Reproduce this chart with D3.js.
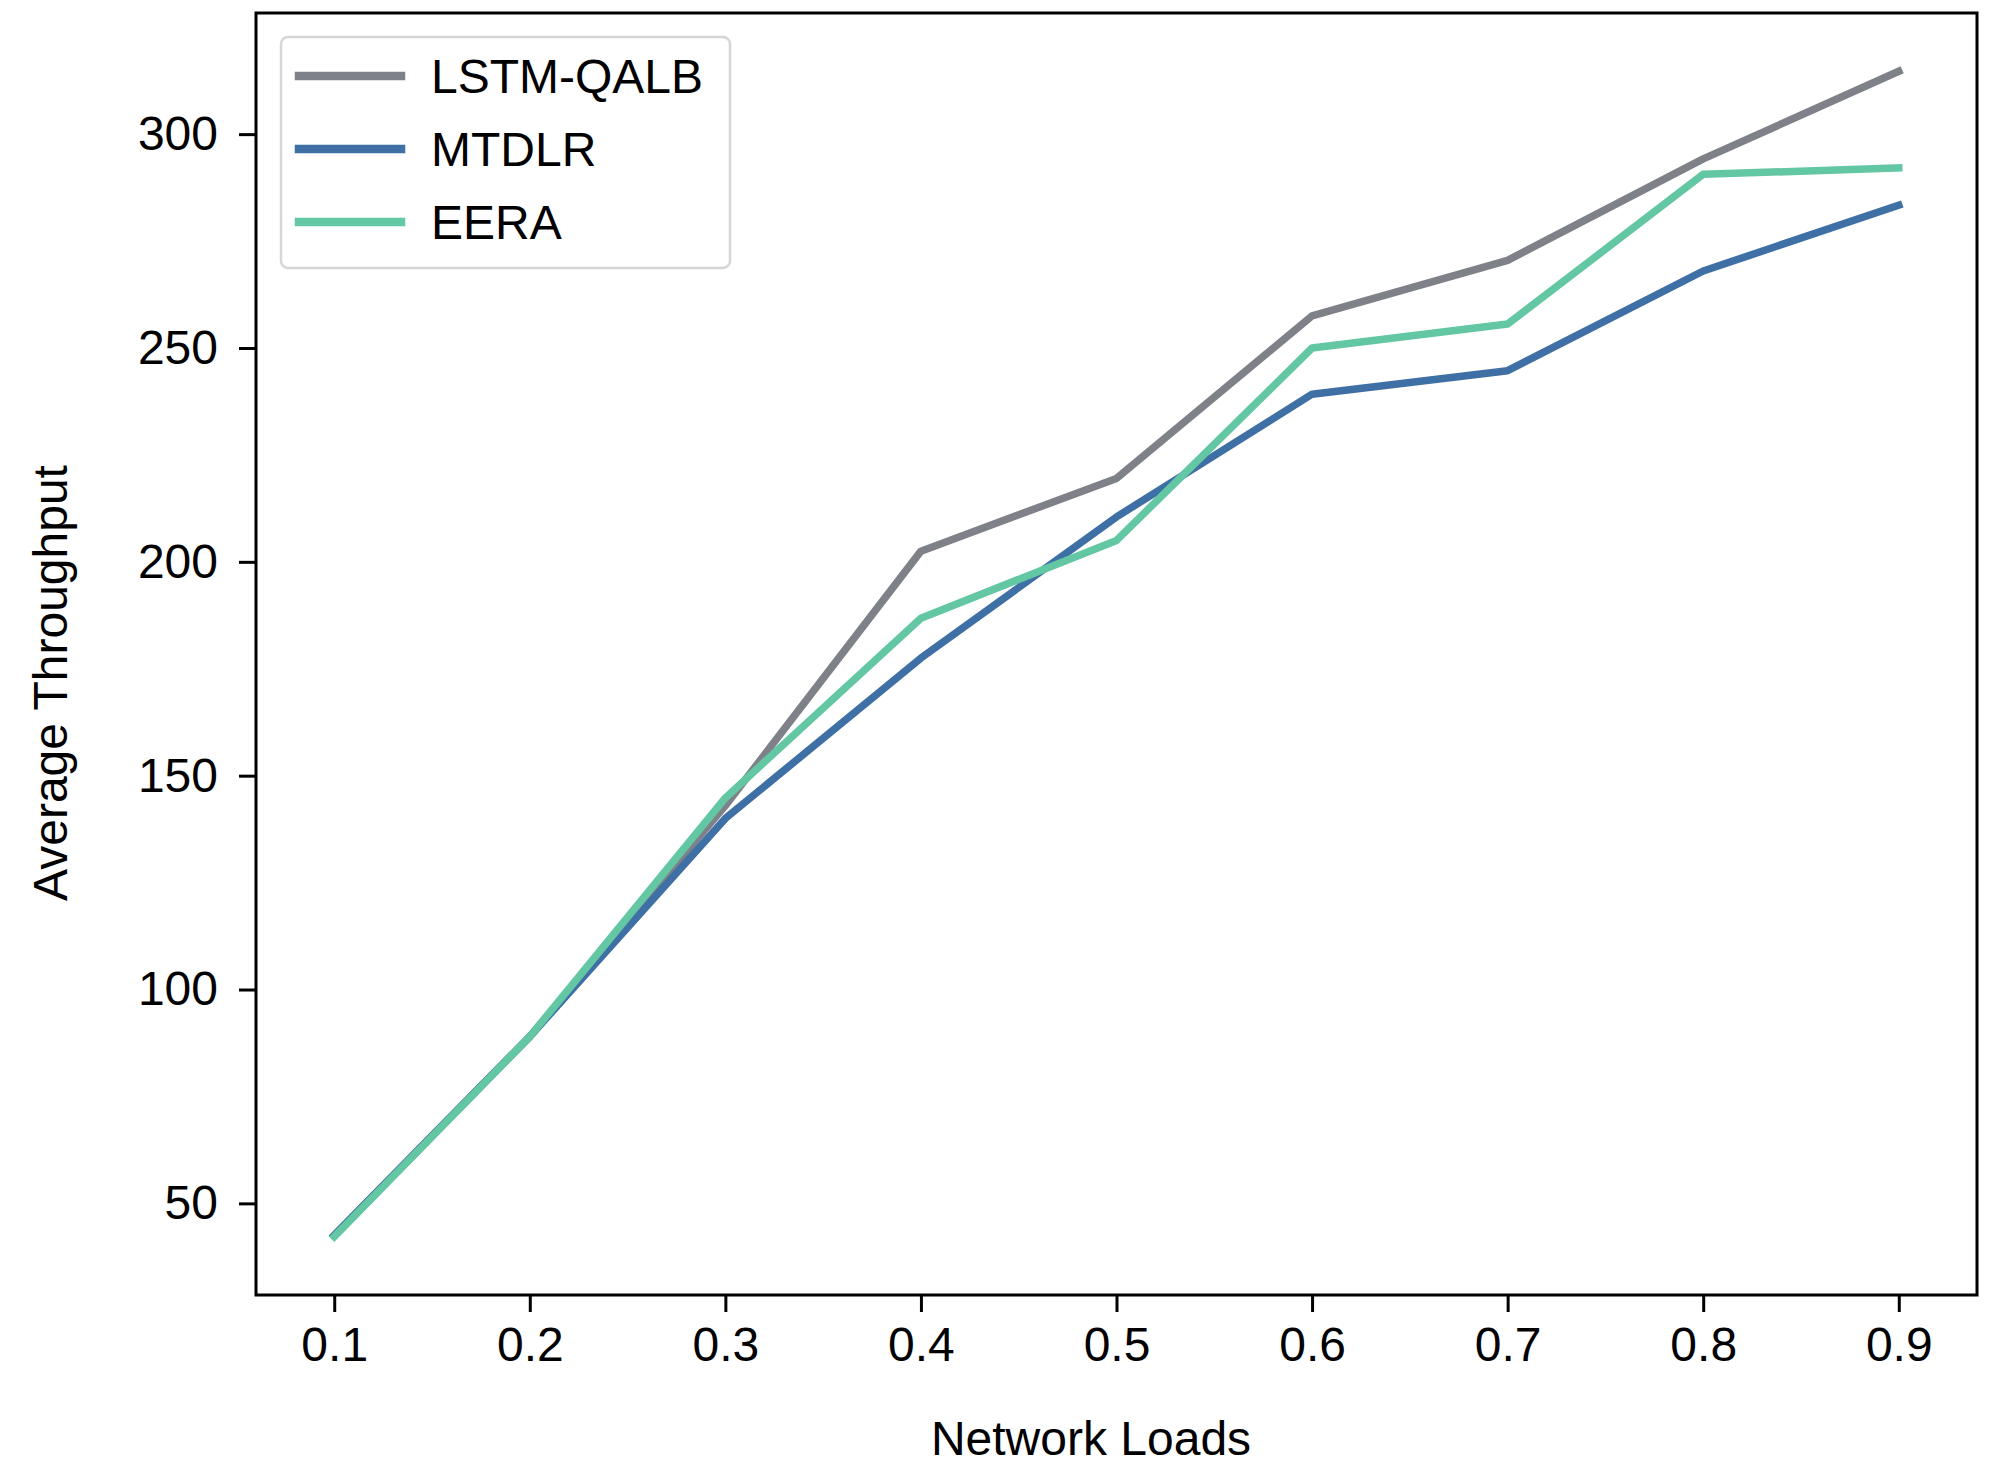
<!DOCTYPE html>
<html>
<head>
<meta charset="utf-8">
<script src="https://cdn.jsdelivr.net/npm/d3@7"></script>
<style>
  body { margin: 0; background: #fff; }
  text { font-family: "Liberation Sans", Arial, sans-serif; fill: #000; }
</style>
</head>
<body>
<div id="chart"></div>
<script>
// values
const loads = [0.1, 0.2, 0.3, 0.4, 0.5, 0.6, 0.7, 0.8, 0.9];
const seriesNames = ['LSTM-QALB', 'MTDLR', 'EERA'];
const lstmQalb = [42.5, 89, 143, 202.5, 219.5, 257.5, 270.5, 294.2, 314.7];
const mtdlr = [42.5, 89, 140, 177.5, 210.5, 239.2, 244.7, 268, 283.4];
const eera = [42.2, 89, 144.8, 186.8, 205, 250, 255.6, 290.6, 292.1];
const yTicks = [50, 100, 150, 200, 250, 300];
const xLabel = 'Network Loads';
const yLabel = 'Average Throughput';

class LineChart {

  constructor(_config, _data) {
    this.config = {
      parentElement: _config.parentElement,
      containerWidth: _config.containerWidth || 2000,
      containerHeight: _config.containerHeight || 1478,
      margin: _config.margin || {top: 13, right: 23, bottom: 183, left: 256},
      colors: ['#7f8189', '#3e6fa5', '#62c7a2'],
      fontSize: 48,
      tickSize: 17,
      lineWidth: 7.5
    }
    this.data = _data;
    this.initVis();
  }

  initVis() {
    let vis = this;
    vis.width = vis.config.containerWidth - vis.config.margin.left - vis.config.margin.right;
    vis.height = vis.config.containerHeight - vis.config.margin.top - vis.config.margin.bottom;

    vis.svg = d3.select(vis.config.parentElement).append('svg')
        .attr('width', vis.config.containerWidth)
        .attr('height', vis.config.containerHeight);

    vis.chart = vis.svg.append('g')
        .attr('transform', `translate(${vis.config.margin.left},${vis.config.margin.top})`);

    // matplotlib style 5% margins around the data
    const xExt = d3.extent(loads);
    const xPad = (xExt[1] - xExt[0]) * 0.05;
    const allVals = vis.data.flatMap(d => d.values);
    const yExt = d3.extent(allVals);
    const yPad = (yExt[1] - yExt[0]) * 0.05;

    vis.xScale = d3.scaleLinear()
        .domain([xExt[0] - xPad, xExt[1] + xPad])
        .range([0, vis.width]);

    vis.yScale = d3.scaleLinear()
        .domain([yExt[0] - yPad, yExt[1] + yPad])
        .range([vis.height, 0]);

    vis.xAxis = d3.axisBottom(vis.xScale)
        .tickValues(loads)
        .tickFormat(d3.format('.1f'))
        .tickSizeInner(vis.config.tickSize)
        .tickSizeOuter(0)
        .tickPadding(15);

    vis.yAxis = d3.axisLeft(vis.yScale)
        .tickValues(yTicks)
        .tickSizeInner(vis.config.tickSize)
        .tickSizeOuter(0)
        .tickPadding(21);

    vis.updateVis();
  }

  updateVis() {
    let vis = this;

    const line = d3.line()
        .x((d, i) => vis.xScale(loads[i]))
        .y(d => vis.yScale(d));

    vis.chart.selectAll('.series')
        .data(vis.data)
      .join('path')
        .attr('class', 'series')
        .attr('fill', 'none')
        .attr('stroke', (d, i) => vis.config.colors[i])
        .attr('stroke-width', vis.config.lineWidth)
        .attr('stroke-linejoin', 'round')
        .attr('stroke-linecap', 'square')
        .attr('d', d => line(d.values));

    // frame
    vis.chart.append('rect')
        .attr('width', vis.width)
        .attr('height', vis.height)
        .attr('fill', 'none')
        .attr('stroke', '#000')
        .attr('stroke-width', 3);

    const xg = vis.chart.append('g')
        .attr('transform', `translate(0,${vis.height})`)
        .call(vis.xAxis);
    const yg = vis.chart.append('g')
        .call(vis.yAxis);

    [xg, yg].forEach(g => {
      g.select('.domain').remove();
      g.selectAll('.tick line').attr('stroke', '#000').attr('stroke-width', 3);
      g.selectAll('.tick text')
          .attr('font-size', vis.config.fontSize)
          .attr('font-family', '"Liberation Sans", Arial, sans-serif')
          .attr('fill', '#000');
    });

    // axis titles
    vis.svg.append('text')
        .attr('x', 1091)
        .attr('y', 1455)
        .attr('text-anchor', 'middle')
        .attr('font-size', vis.config.fontSize)
        .text(xLabel);

    vis.svg.append('text')
        .attr('transform', 'translate(67,683) rotate(-90)')
        .attr('text-anchor', 'middle')
        .attr('font-size', vis.config.fontSize)
        .text(yLabel);

    // legend
    vis.legend = vis.svg.append('g')
        .attr('transform', 'translate(281,37)');

    vis.legend.append('rect')
        .attr('width', 449)
        .attr('height', 231)
        .attr('rx', 7)
        .attr('fill', '#fff')
        .attr('fill-opacity', 0.8)
        .attr('stroke', '#d6d6d6')
        .attr('stroke-width', 2.5);

    const rows = vis.legend.selectAll('.legend-row')
        .data(vis.data)
      .join('g')
        .attr('class', 'legend-row')
        .attr('transform', (d, i) => `translate(0,${39 + i * 73})`);

    rows.append('line')
        .attr('x1', 18)
        .attr('x2', 120)
        .attr('stroke', (d, i) => vis.config.colors[i])
        .attr('stroke-width', vis.config.lineWidth + 1)
        .attr('stroke-linecap', 'square');

    rows.append('text')
        .attr('x', 150)
        .attr('dy', '0.35em')
        .attr('font-size', vis.config.fontSize)
        .text(d => d.name);
  }
}

const chartData = [
  {name: seriesNames[0], values: lstmQalb},
  {name: seriesNames[1], values: mtdlr},
  {name: seriesNames[2], values: eera}
];

new LineChart({parentElement: '#chart'}, chartData);
</script>
</body>
</html>
